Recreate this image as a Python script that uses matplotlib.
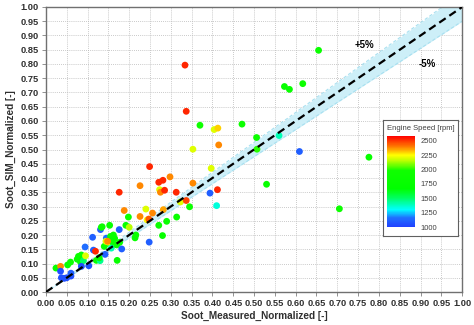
import numpy as np
import matplotlib
matplotlib.use('Agg')
import matplotlib.pyplot as plt
from matplotlib.colors import LinearSegmentedColormap, Normalize
from matplotlib.cm import ScalarMappable

plt.rcParams['font.family'] = ['Liberation Sans Narrow', 'Liberation Sans', 'DejaVu Sans']

# measured, simulated (normalized) and engine speed [rpm]
meas = [0.334, 0.337, 0.370, 0.404, 0.413, 0.415, 0.353, 0.397, 0.655, 0.573,
        0.585, 0.617, 0.471, 0.506, 0.507, 0.560, 0.609, 0.776, 0.530, 0.705,
        0.024, 0.035, 0.035, 0.037, 0.044, 0.050, 0.060, 0.060, 0.052, 0.059,
        0.075, 0.078, 0.083, 0.085, 0.088, 0.090, 0.095, 0.085, 0.094, 0.103,
        0.112, 0.114, 0.119, 0.121, 0.130, 0.131, 0.133, 0.142, 0.145, 0.140,
        0.145, 0.144, 0.150, 0.155, 0.153, 0.155, 0.160, 0.157, 0.165, 0.170,
        0.171, 0.177, 0.176, 0.182, 0.176, 0.188, 0.192, 0.198, 0.200, 0.214,
        0.216, 0.226, 0.226, 0.240, 0.243, 0.247, 0.248, 0.249, 0.256, 0.271,
        0.271, 0.281, 0.273, 0.275, 0.285, 0.282, 0.280, 0.290, 0.298, 0.313,
        0.314, 0.323, 0.337, 0.345, 0.353, 0.394, 0.412, 0.410, 0.128, 0.135,
        0.162, 0.148]
sim = [0.796, 0.634, 0.585, 0.570, 0.575, 0.516, 0.501, 0.434, 0.848, 0.721,
       0.711, 0.731, 0.589, 0.542, 0.501, 0.549, 0.493, 0.473, 0.378, 0.292,
       0.084, 0.090, 0.073, 0.050, 0.048, 0.050, 0.056, 0.066, 0.095, 0.105,
       0.115, 0.125, 0.105, 0.130, 0.118, 0.110, 0.127, 0.090, 0.158, 0.092,
       0.192, 0.147, 0.143, 0.111, 0.110, 0.219, 0.227, 0.132, 0.189, 0.160,
       0.170, 0.178, 0.175, 0.180, 0.234, 0.195, 0.175, 0.154, 0.188, 0.165,
       0.111, 0.174, 0.219, 0.151, 0.350, 0.286, 0.234, 0.263, 0.227, 0.190,
       0.200, 0.373, 0.265, 0.291, 0.253, 0.256, 0.175, 0.440, 0.277, 0.234,
       0.385, 0.392, 0.359, 0.350, 0.357, 0.289, 0.198, 0.248, 0.404, 0.350,
       0.263, 0.316, 0.321, 0.299, 0.382, 0.347, 0.359, 0.303, 0.120, 0.229,
       0.200, 0.178]
rpm = [2520, 2520, 1950, 2200, 2300, 2380, 2200, 2200, 1850, 1800,
       1800, 1900, 1900, 1900, 2000, 1400, 1100, 1800, 1800, 1900,
       1800, 2380, 1050, 1050, 1050, 1050, 1050, 1100, 1800, 1900,
       1800, 1850, 1750, 1900, 1700, 1500, 2200, 1050, 1150, 1050,
       1100, 1100, 2520, 1800, 1450, 1100, 1850, 1100, 1150, 1800,
       1950, 2200, 2250, 2350, 1800, 1850, 1800, 1400, 1750, 1850,
       1800, 1900, 1100, 1100, 2520, 2380, 1800, 1900, 2150, 1800,
       1850, 2380, 2380, 2200, 2250, 2450, 1100, 2520, 2380, 1850,
       2520, 2520, 2200, 2380, 2520, 2350, 1800, 1850, 2380, 2520,
       1850, 2200, 2480, 1900, 2380, 1100, 2520, 1350, 1800, 1900,
       1850, 2380]

cb_ticks = [1000, 1250, 1500, 1750, 2000, 2250, 2500]

speed_cmap = LinearSegmentedColormap.from_list('speed', [
    (0.00, '#2040ff'), (0.10, '#2070ff'), (0.19, '#00ffff'), (0.32, '#00ff60'),
    (0.42, '#00ff00'), (0.62, '#10ff00'), (0.74, '#c8ff00'), (0.79, '#ffff00'),
    (0.88, '#ff8000'), (1.00, '#ff0000')])
norm = Normalize(vmin=1000, vmax=2580)

fig = plt.figure(figsize=(4.74, 3.25), dpi=100)
ax = fig.add_axes([0.097, 0.1015, 0.878, 0.877])

xs = np.linspace(0, 1.05, 50)
ax.fill_between(xs, xs * 0.95, xs * 1.05, color='#cdeff8', lw=0, zorder=1)
ax.plot(xs, xs * 0.95, ls=(0, (3, 2)), color='#a8e0f0', lw=0.8, zorder=1)
ax.plot(xs, xs * 1.05, ls=(0, (3, 2)), color='#a8e0f0', lw=0.8, zorder=1)

ax.scatter(meas, sim, c=rpm, cmap=speed_cmap, norm=norm, s=24, lw=0, zorder=3)
ax.plot([0, 1], [0, 1], color='black', lw=1.6, ls=(0, (3.5, 2)), zorder=4)

ax.text(0.766, 0.866, '+5%', fontsize=7, fontweight='bold', ha='center', va='center')
ax.text(0.915, 0.800, '-5%', fontsize=7, fontweight='bold', ha='center', va='center')

ticks = np.round(np.arange(0, 1.0001, 0.05), 2)
ax.set_xticks(ticks)
ax.set_yticks(ticks)
ax.set_xticklabels(['%.2f' % t for t in ticks])
ax.set_yticklabels(['%.2f' % t for t in ticks])
ax.set_xlim(0, 1)
ax.set_ylim(0, 1)
ax.tick_params(labelsize=6.7, length=3, width=0.6, color='#808080',
               labelcolor='#303030', pad=2)
for lab in ax.get_xticklabels() + ax.get_yticklabels():
    lab.set_fontweight('bold')
ax.grid(True, ls=(0, (1, 1.5)), color='#b8b8b8', lw=0.6, zorder=0)
ax.set_axisbelow(True)
for sp in ax.spines.values():
    sp.set_color('#707070')
    sp.set_linewidth(1.0)

ax.set_xlabel('Soot_Measured_Normalized [-]', fontsize=7.2, fontweight='bold',
              color='#303030', labelpad=2)
ax.set_ylabel('Soot_SIM_Normalized [-]', fontsize=7.2, fontweight='bold',
              color='#303030', labelpad=3)

# colorbar legend box inside the plot
box = fig.add_axes([0.808, 0.274, 0.158, 0.357])
box.set_xticks([])
box.set_yticks([])
box.patch.set_facecolor('white')
for sp in box.spines.values():
    sp.set_color('#606060')
    sp.set_linewidth(0.8)
box.set_zorder(5)
box.text(0.5, 0.955, 'Engine Speed [rpm]', transform=box.transAxes,
         ha='center', va='top', fontsize=5.5, color='#404040')

cax = fig.add_axes([0.8165, 0.3015, 0.059, 0.28])
cax.set_zorder(6)
cb = fig.colorbar(ScalarMappable(norm=norm, cmap=speed_cmap), cax=cax, ticks=cb_ticks)
cb.outline.set_visible(False)
cax.tick_params(length=0, labelsize=5.5, labelcolor='#404040', pad=4)

fig.savefig('out.png', dpi=100)
